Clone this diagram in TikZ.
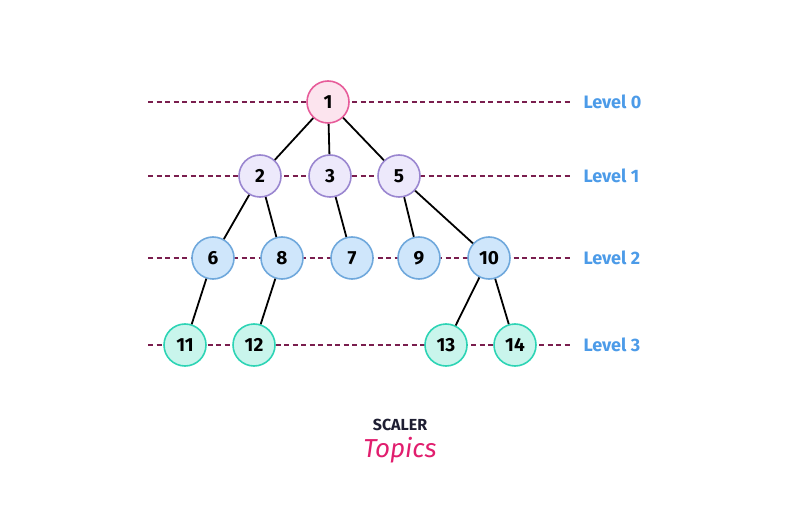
\documentclass[tikz,border=0pt]{standalone}
\usepackage{fontspec}
\setmainfont{Fira Sans}
\begin{document}
\begin{tikzpicture}[x=1pt,y=-1pt,
 nd/.style={circle,draw,line width=1.6pt,minimum size=42pt,inner sep=0pt,font=\fontsize{19}{19}\selectfont\bfseries},
 l0/.style={nd,draw={rgb,255:red,231;green,92;blue,154},fill={rgb,255:red,252;green,228;blue,238}},
 l1/.style={nd,draw={rgb,255:red,154;green,134;blue,208},fill={rgb,255:red,237;green,233;blue,251}},
 l2/.style={nd,draw={rgb,255:red,111;green,168;blue,220},fill={rgb,255:red,207;green,230;blue,251}},
 l3/.style={nd,draw={rgb,255:red,45;green,212;blue,181},fill={rgb,255:red,201;green,245;blue,236}},
 lvl/.style={draw={rgb,255:red,122;green,30;blue,78},line width=2.4pt,dash pattern=on 5pt off 3.5pt},
 lab/.style={anchor=west,text={rgb,255:red,76;green,155;blue,232},font=\fontsize{18}{18}\selectfont\bfseries},
 ed/.style={line width=1.8pt}]
\useasboundingbox (0,0) rectangle (799,518);
\foreach \y/\t in {102/0,176/1,258/2,345/3}{
 \coordinate (s\t) at (148,\y); \coordinate (e\t) at (572,\y);
 \draw[lvl] (s\t) -- (e\t);
 \node[lab] (L\t) at (580,\y) {Level \t};}
\node[l0] (n1) at (328,102) {1};
\node[l1] (n2) at (260,176) {2};
\node[l1] (n3) at (330,176) {3};
\node[l1] (n5) at (399,176) {5};
\node[l2] (n6) at (213,258) {6};
\node[l2] (n8) at (282,258) {8};
\node[l2] (n7) at (352,258) {7};
\node[l2] (n9) at (419,258) {9};
\node[l2] (n10) at (489,258) {10};
\node[l3] (n11) at (185,345) {11};
\node[l3] (n12) at (254,345) {12};
\node[l3] (n13) at (446,345) {13};
\node[l3] (n14) at (515,345) {14};
\foreach \a/\b in {1/2,1/3,1/5,2/6,2/8,3/7,5/9,5/10,6/11,8/12,10/13,10/14}
 \draw[ed] (n\a) -- (n\b);
\node[font=\fontsize{16}{16}\selectfont\bfseries,text={rgb,255:red,30;green,30;blue,50}] (sc) at (400,425) {SCALER};
\node[font=\fontsize{26}{26}\selectfont\itshape,text={rgb,255:red,225;green,30;blue,110}] (tp) at (400,450) {Topics};
\end{tikzpicture}
\end{document}
